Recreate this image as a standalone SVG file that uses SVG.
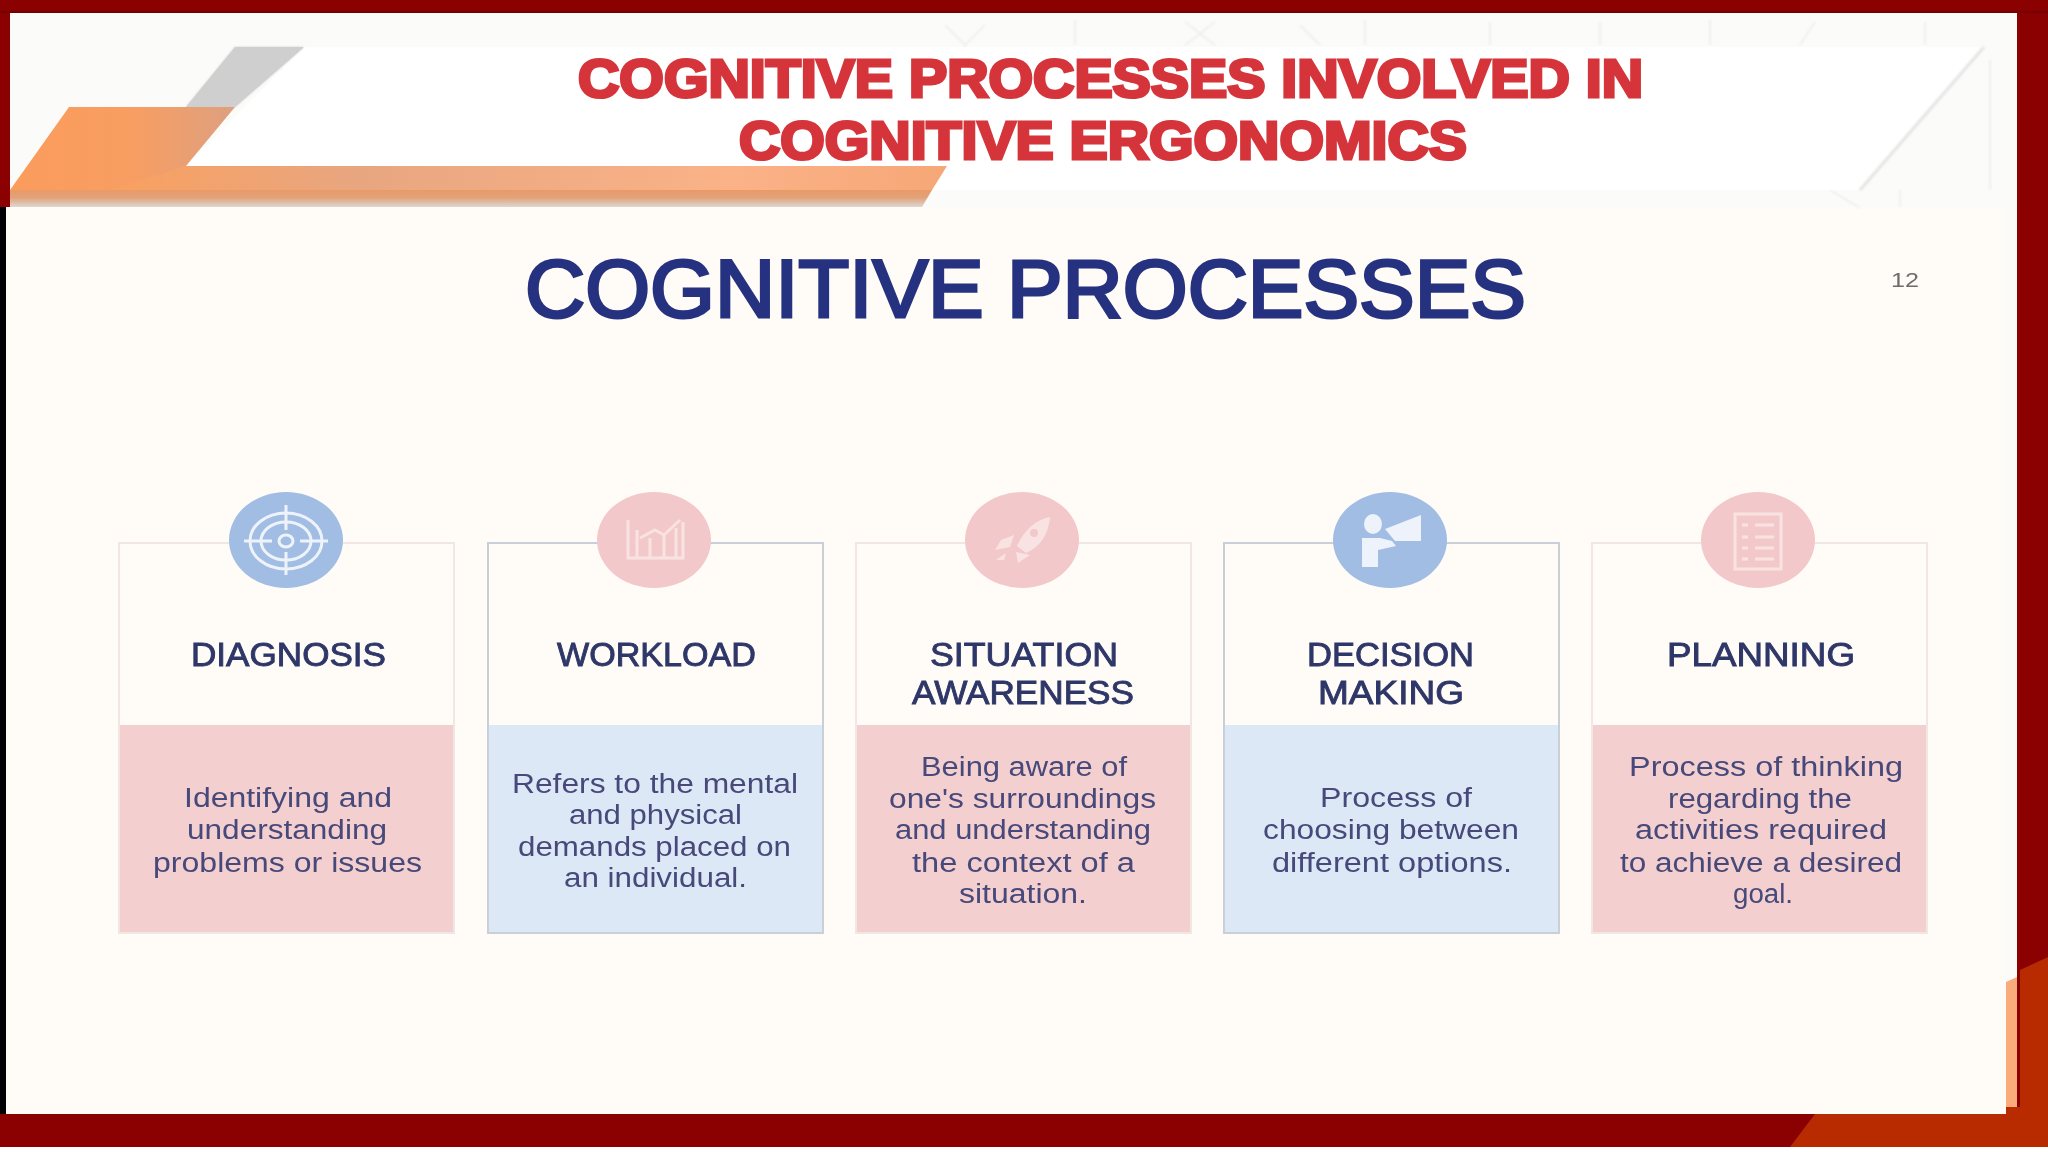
<svg xmlns="http://www.w3.org/2000/svg" width="2048" height="1152" viewBox="0 0 2048 1152">
<defs>
<linearGradient id="orangeBar" x1="0" x2="1" y1="0" y2="0"><stop offset="0" stop-color="#f9a060"/><stop offset="0.3" stop-color="#e8a680"/><stop offset="0.75" stop-color="#fbb287"/><stop offset="1" stop-color="#f6a777"/></linearGradient>
<linearGradient id="orangeShadow" x1="0" x2="0" y1="0" y2="1"><stop offset="0" stop-color="#ea9a66"/><stop offset="0.45" stop-color="#e2a27a"/><stop offset="1" stop-color="#dcd8d2"/></linearGradient>
<linearGradient id="orangeBlock" x1="0" x2="1" y1="0" y2="0"><stop offset="0" stop-color="#fb9c5c"/><stop offset="0.55" stop-color="#f89e62"/><stop offset="1" stop-color="#dda080"/></linearGradient>
<linearGradient id="topBar" x1="0" x2="0" y1="0" y2="1"><stop offset="0" stop-color="#8b0000"/><stop offset="0.75" stop-color="#8b0000"/><stop offset="1" stop-color="#6d0000"/></linearGradient>
<filter id="soft" x="-5%" y="-5%" width="110%" height="110%"><feGaussianBlur stdDeviation="1.2"/></filter>
<filter id="softText" x="-5%" y="-20%" width="110%" height="140%"><feGaussianBlur stdDeviation="0.6"/></filter>
</defs>
<style>
.title{font-family:"Liberation Sans",Arial,sans-serif;font-weight:700;font-size:54px;fill:#d5343a;stroke:#d5343a;stroke-width:3.2px}
.head{font-family:"Liberation Sans",Arial,sans-serif;font-size:81px;fill:#253380;stroke:#253380;stroke-width:3px}
.num{font-family:"Liberation Sans",Arial,sans-serif;font-size:21px;fill:#6c6c6c}
.ct{font-family:"Liberation Sans",Arial,sans-serif;font-size:33px;fill:#2f3768;stroke:#2f3768;stroke-width:.9px}
.d{font-family:"Liberation Sans",Arial,sans-serif;font-size:27px;fill:#47497a}
.top{fill:#fffbf6}
.pink{fill:#f4cfd0}
.blue{fill:#dde8f6}
.edgeP{fill:none;stroke:#f0e7e3;stroke-width:2px}
.edgeB{fill:none;stroke:#c9d0d9;stroke-width:2px}
.cp{fill:#f2c8ca}
.cb{fill:#a2bde3}
.ip{fill:#f9e3e2}
.lp{fill:none;stroke:#f9e3e2;stroke-width:3px}
.ib{fill:#eef3fb}
.lb{fill:none;stroke:#eef3fb;stroke-width:3px}
</style>
<rect width="2048" height="1152" fill="#ffffff"/>
<g id="frame">
<rect x="0" y="0" width="2048" height="1147" fill="#8b0000"/>
<rect x="0" y="0" width="2048" height="13" fill="url(#topBar)"/>
<rect x="10" y="13" width="2007" height="194" fill="#fbfbfa"/>
<rect x="0" y="207" width="6" height="907" fill="#000000"/>
<rect x="6" y="207" width="2011" height="907" fill="#fffbf6"/>
<rect x="2005" y="207" width="12" height="775" fill="#fcfbfa"/>
<path d="M2006 982L2017 977V1107H2006Z" fill="#f9ab7c"/>
<path d="M1790 1147L1815 1114H2006V1107H2020V970L2048 957V1147Z" fill="#b82a00"/>
</g>
<g id="header-art">
<g fill="none" stroke="#efefef" stroke-width="2" filter="url(#soft)">
<path d="M945 25L965 45M985 25L965 45V60M1075 20V45M1185 22L1215 45M1215 22L1185 45M1300 25L1320 45M1365 20V45M1490 22V45M1600 22V45M1710 20V45M1815 22L1800 45M1925 22V45"/>
<path d="M1990 60V190M1830 190L1860 208M1900 190V207"/>
</g>
<path d="M235 47H304L235 107H186Z" fill="#cfcfcf"/>
<path d="M304 47H1984L1860 190H140L186 166Z" fill="#ffffff"/>
<path d="M1984 47L1860 190" fill="none" stroke="#e4e4e4" stroke-width="3" filter="url(#soft)"/>
<path d="M235 47H304L235 107H186Z" fill="#cfcfcf" filter="url(#soft)"/>
<path d="M69 107H235L186 166V190H10Z" fill="url(#orangeBlock)"/>
<path d="M186 166H947L932 190H110Z" fill="url(#orangeBar)"/>
<path d="M10 190H932L922 207H10Z" fill="url(#orangeShadow)"/>
</g>
<g id="title">
<text class="title" x="578" y="97" textLength="1065" lengthAdjust="spacingAndGlyphs">COGNITIVE PROCESSES INVOLVED IN</text>
<text class="title" x="739" y="159" textLength="728" lengthAdjust="spacingAndGlyphs">COGNITIVE ERGONOMICS</text>
</g>
<g id="heading" filter="url(#softText)">
<text class="head" x="525" y="317" textLength="1001" lengthAdjust="spacingAndGlyphs">COGNITIVE PROCESSES</text>
<text class="num" x="1891" y="287" textLength="28" lengthAdjust="spacingAndGlyphs">12</text>
</g>
<g id="connectors"></g>
<g id="card-diagnosis" filter="url(#softText)">
<rect class="top" x="119" y="543" width="335" height="182"/>
<rect class="pink" x="119" y="725" width="335" height="208"/>
<rect class="edgeP" x="119" y="543" width="335" height="390"/>
<ellipse class="cb" cx="286" cy="540" rx="57" ry="48"/>
<g class="lb"><ellipse class="lb" cx="286" cy="541" rx="36" ry="28"/><ellipse class="lb" cx="286" cy="541" rx="25" ry="19"/><ellipse class="lb" cx="286" cy="541" rx="7" ry="6"/><path class="lb" d="M244 541H272M300 541H328M286 505V530M286 552V575"/></g>
<text class="ct" x="191" y="666" textLength="195" lengthAdjust="spacingAndGlyphs">DIAGNOSIS</text>
<text class="d" x="184" y="807" textLength="208" lengthAdjust="spacingAndGlyphs">Identifying and</text>
<text class="d" x="187" y="839" textLength="200" lengthAdjust="spacingAndGlyphs">understanding</text>
<text class="d" x="153" y="872" textLength="269" lengthAdjust="spacingAndGlyphs">problems or issues</text>
</g>
<g id="card-workload" filter="url(#softText)">
<rect class="top" x="488" y="543" width="335" height="182"/>
<rect class="blue" x="488" y="725" width="335" height="208"/>
<rect class="edgeB" x="488" y="543" width="335" height="390"/>
<ellipse class="cp" cx="654" cy="540" rx="57" ry="48"/>
<path class="lp" d="M628 520V558H683V522M637 558V530M650 558V538M664 558V534M676 558V528M640 538L655 530L664 535L680 520"/>
<text class="ct" x="557" y="666" textLength="199" lengthAdjust="spacingAndGlyphs">WORKLOAD</text>
<text class="d" x="512" y="793" textLength="286" lengthAdjust="spacingAndGlyphs">Refers to the mental</text>
<text class="d" x="569" y="824" textLength="173" lengthAdjust="spacingAndGlyphs">and physical</text>
<text class="d" x="518" y="856" textLength="273" lengthAdjust="spacingAndGlyphs">demands placed on</text>
<text class="d" x="564" y="887" textLength="183" lengthAdjust="spacingAndGlyphs">an individual.</text>
</g>
<g id="card-situation" filter="url(#softText)">
<rect class="top" x="856" y="543" width="335" height="182"/>
<rect class="pink" x="856" y="725" width="335" height="208"/>
<rect class="edgeP" x="856" y="543" width="335" height="390"/>
<ellipse class="cp" cx="1022" cy="540" rx="57" ry="48"/>
<path class="ip" d="M1050 517C1037 519 1024 530 1017 546L1026 553C1041 547 1049 532 1050 517ZM1014 535L1001 540L995 550L1010 547ZM1030 555L1018 563L1016 552ZM1006 553L996 560L1004 560Z"/>
<circle cx="1034" cy="533" r="4" fill="#f2c8ca"/>
<text class="ct" x="930" y="666" textLength="188" lengthAdjust="spacingAndGlyphs">SITUATION</text>
<text class="ct" x="912" y="704" textLength="222" lengthAdjust="spacingAndGlyphs">AWARENESS</text>
<text class="d" x="921" y="776" textLength="206" lengthAdjust="spacingAndGlyphs">Being aware of</text>
<text class="d" x="889" y="808" textLength="267" lengthAdjust="spacingAndGlyphs">one's surroundings</text>
<text class="d" x="895" y="839" textLength="256" lengthAdjust="spacingAndGlyphs">and understanding</text>
<text class="d" x="912" y="872" textLength="223" lengthAdjust="spacingAndGlyphs">the context of a</text>
<text class="d" x="959" y="903" textLength="128" lengthAdjust="spacingAndGlyphs">situation.</text>
</g>
<g id="card-decision" filter="url(#softText)">
<rect class="top" x="1224" y="543" width="335" height="182"/>
<rect class="blue" x="1224" y="725" width="335" height="208"/>
<rect class="edgeB" x="1224" y="543" width="335" height="390"/>
<ellipse class="cb" cx="1390" cy="540" rx="57" ry="48"/>
<ellipse class="ib" cx="1373" cy="524" rx="9" ry="10"/>
<path class="ib" d="M1362 538H1380L1392 541L1396 546L1378 550V567H1362Z"/>
<path class="ib" d="M1385 529L1421 515V541L1395 541Z"/>
<text class="ct" x="1307" y="666" textLength="167" lengthAdjust="spacingAndGlyphs">DECISION</text>
<text class="ct" x="1318" y="704" textLength="146" lengthAdjust="spacingAndGlyphs">MAKING</text>
<text class="d" x="1320" y="807" textLength="152" lengthAdjust="spacingAndGlyphs">Process of</text>
<text class="d" x="1263" y="839" textLength="256" lengthAdjust="spacingAndGlyphs">choosing between</text>
<text class="d" x="1272" y="872" textLength="240" lengthAdjust="spacingAndGlyphs">different options.</text>
</g>
<g id="card-planning" filter="url(#softText)">
<rect class="top" x="1592" y="543" width="335" height="182"/>
<rect class="pink" x="1592" y="725" width="335" height="208"/>
<rect class="edgeP" x="1592" y="543" width="335" height="390"/>
<ellipse class="cp" cx="1758" cy="540" rx="57" ry="48"/>
<rect class="lp" x="1735" y="514" width="46" height="55"/>
<path class="lp" d="M1742 525H1748M1755 525H1774M1742 537H1748M1755 537H1774M1742 548H1748M1755 548H1774M1742 559H1748M1755 559H1774"/>
<text class="ct" x="1667" y="666" textLength="188" lengthAdjust="spacingAndGlyphs">PLANNING</text>
<text class="d" x="1629" y="776" textLength="274" lengthAdjust="spacingAndGlyphs">Process of thinking</text>
<text class="d" x="1668" y="808" textLength="184" lengthAdjust="spacingAndGlyphs">regarding the</text>
<text class="d" x="1635" y="839" textLength="252" lengthAdjust="spacingAndGlyphs">activities required</text>
<text class="d" x="1620" y="872" textLength="282" lengthAdjust="spacingAndGlyphs">to achieve a desired</text>
<text class="d" x="1733" y="903" textLength="60" lengthAdjust="spacingAndGlyphs">goal.</text>
</g>
</svg>
